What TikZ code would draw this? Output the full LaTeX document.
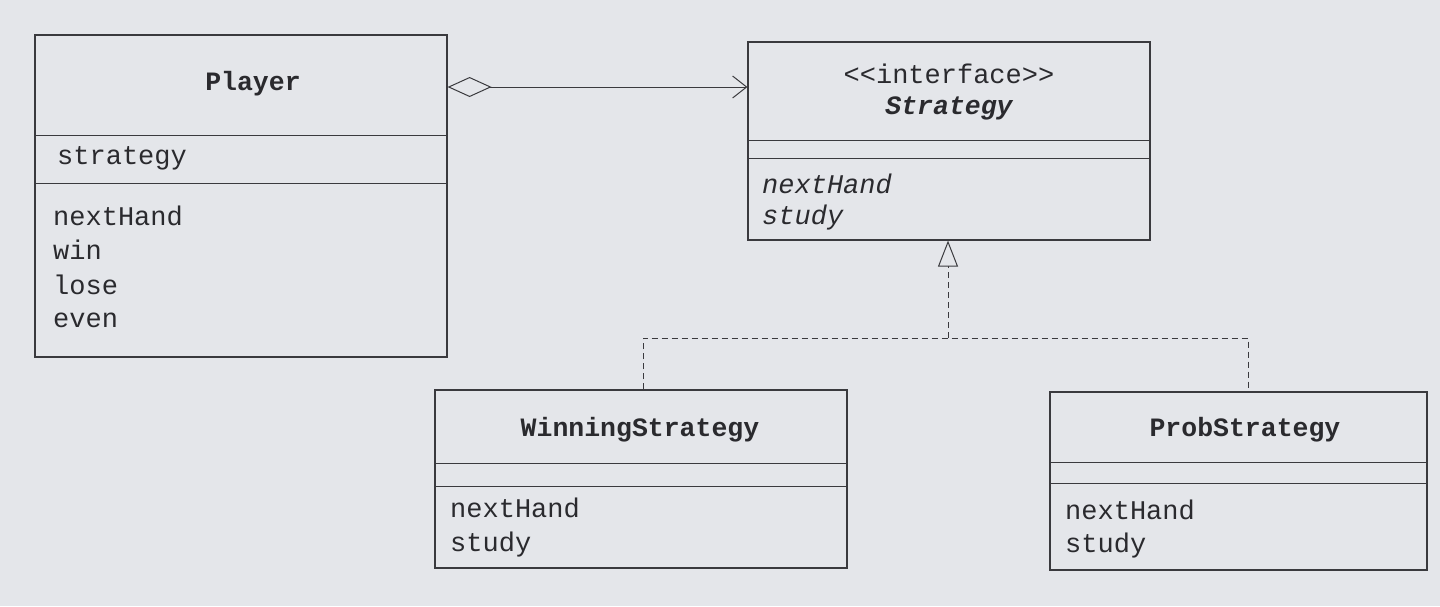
\documentclass[tikz,border=0pt]{standalone}
\usepackage{fontspec}
\setmonofont{Liberation Mono}
\usetikzlibrary{arrows.meta,shapes.geometric}
\definecolor{bg}{HTML}{E4E6EA}
\definecolor{ln}{HTML}{3A3A3E}
\definecolor{tx}{HTML}{2A2A2E}
\begin{document}
\begin{tikzpicture}[x=1pt,y=-1pt,
  box/.style={draw=ln,line width=1.2pt,inner sep=0pt},
  ttl/.style={font=\fontsize{26.5}{30}\selectfont\ttfamily\bfseries,text=tx,inner sep=0pt},
  itm/.style={font=\fontsize{27}{30}\selectfont\ttfamily,text=tx,inner sep=0pt,anchor=west},
  sep/.style={draw=ln,line width=1pt},
  dsh/.style={draw=ln,line width=1pt,dash pattern=on 6pt off 4pt}]
\fill[bg] (0,0) rectangle (1440,606);
\useasboundingbox (0,0) rectangle (1440,606);
% Player
\node[box,minimum width=412,minimum height=322] (player) at (241,196) {};
\draw[sep] (35,135) -- (447,135); \draw[sep] (35,183) -- (447,183);
\node[ttl] (pt) at (253,84) {Player};
\node[itm] (p1) at (57,158) {strategy};
\node[itm] (p2) at (53,216) {nextHand};
\node[itm] (p3) at (53,250) {win};
\node[itm] (p4) at (53,285) {lose};
\node[itm] (p5) at (53,320) {even};
% Strategy
\node[box,minimum width=402,minimum height=198] (strat) at (949,141) {};
\draw[sep] (748,140) -- (1150,140); \draw[sep] (748,158) -- (1150,158);
\node[itm,anchor=center] (s0) at (949,74) {<<interface>>};
\node[ttl] (st) at (949,108) {\itshape Strategy};
\node[itm] (s1) at (762,184) {\itshape nextHand};
\node[itm] (s2) at (762,218) {\itshape study};
% Winning
\node[box,minimum width=412,minimum height=178] (win) at (641,479) {};
\draw[sep] (435,463) -- (847,463); \draw[sep] (435,486) -- (847,486);
\node[ttl] (wt) at (640,430) {WinningStrategy};
\node[itm] (w1) at (450,508) {nextHand};
\node[itm] (w2) at (450,545) {study};
% Prob
\node[box,minimum width=377,minimum height=178] (prob) at (1238.5,481) {};
\draw[sep] (1050,462) -- (1427,462); \draw[sep] (1050,483) -- (1427,483);
\node[ttl] (pbt) at (1245,430) {ProbStrategy};
\node[itm] (b1) at (1065,510) {nextHand};
\node[itm] (b2) at (1065,546) {study};
% aggregation
\draw[ln,line width=1pt,{Diamond[open,length=44pt,width=20pt,fill=bg]}-{Straight Barb[length=14pt,width=22pt]}]
  (player.east |- 0,87) -- (strat.west |- 0,87);
% realization
\coordinate (j) at (948,338);
\draw[dsh] (win.north -| 643,0) |- (j) -| (prob.north -| 1248,0);
\draw[dsh,-{Triangle[open,length=26pt,width=20pt,fill=bg]}] (j) -- (strat.south -| 948,0);
\end{tikzpicture}
\end{document}
